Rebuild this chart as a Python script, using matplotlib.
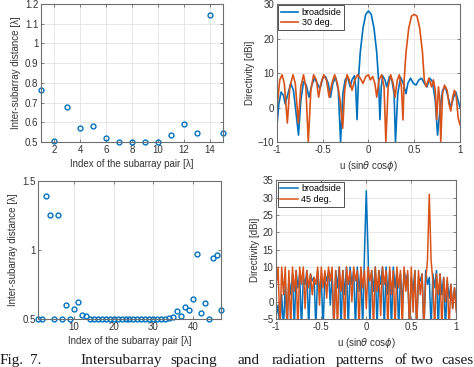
import matplotlib
matplotlib.use('Agg')
import matplotlib.pyplot as plt
import numpy as np
from matplotlib.ticker import FuncFormatter

# top-left: spacing of 15 subarray pairs
tl_idx = list(range(1, 16))
tl_dist = [0.766, 0.503, 0.676, 0.573, 0.583, 0.522, 0.50, 0.50, 0.50, 0.50,
           0.536, 0.592, 0.544, 1.146, 0.547]

# bottom-left: spacing of 47 subarray pairs
bl_idx = list(range(1, 48))
bl_dist = [0.5, 0.5, 1.387, 1.25, 0.5, 1.25, 0.5, 0.603, 0.5, 0.572,
           0.62, 0.532, 0.52] + [0.5] * 20 + \
          [0.505, 0.515, 0.558, 0.524, 0.587, 0.563, 0.647, 0.972, 0.543, 0.616,
           0.5, 0.943, 0.965, 0.565]

# top-right: broadside and 30 deg patterns
tr_u_bs = [-1.0, -0.98, -0.955, -0.93, -0.91, -0.88, -0.85, -0.82, -0.79, -0.765,
           -0.74, -0.71, -0.68, -0.65, -0.62, -0.59, -0.56, -0.53, -0.5, -0.47,
           -0.44, -0.415, -0.39, -0.36, -0.33, -0.305, -0.28, -0.255, -0.23, -0.2,
           -0.18, -0.155, -0.14, -0.125, -0.11, -0.09, -0.06, -0.03, 0.0, 0.03,
           0.06, 0.09, 0.11, 0.125, 0.14, 0.155, 0.18, 0.2, 0.23, 0.255,
           0.28, 0.295, 0.32, 0.35, 0.38, 0.41, 0.43, 0.46, 0.49, 0.52,
           0.55, 0.58, 0.61, 0.64, 0.67, 0.7, 0.73, 0.755, 0.78, 0.81,
           0.84, 0.87, 0.9, 0.93, 0.955, 0.98, 1.0]
tr_d_bs = [-5, 1, 4.5, 3.5, 1, 4, 7, 5, -2, -8,
           2, 7.5, 6.5, 3, 6.5, 8.5, 7, 5.5, 8.5, 9,
           7, 3, 7, 8.8, 5, -10, 4, 8, 9, 6,
           8, 9.2, 6, -3.5, 8, 16, 23, 27, 28, 27,
           23, 16, 8, -3.5, 6, 9.2, 8, 6, 9, 8,
           4, -10, 4, 8.8, 7, 4, 7, 8.5, 7, 6.5,
           8, 8.5, 7, 6, 8.5, 7.5, 2, -8, -1, 5,
           6, 3, 0, 3, 4.5, 2, 0]

tr_u_30 = [-1.0, -0.97, -0.945, -0.92, -0.887, -0.86, -0.825, -0.8, -0.767, -0.74,
           -0.71, -0.685, -0.658, -0.63, -0.6, -0.57, -0.545, -0.52, -0.49, -0.46,
           -0.43, -0.4, -0.37, -0.34, -0.31, -0.282, -0.26, -0.235, -0.21, -0.18,
           -0.15, -0.12, -0.09, -0.06, -0.03, 0.0, 0.02, 0.046, 0.07, 0.09,
           0.115, 0.144, 0.17, 0.19, 0.215, 0.243, 0.27, 0.29, 0.315, 0.337,
           0.36, 0.377, 0.39, 0.41, 0.44, 0.47, 0.5, 0.53, 0.56, 0.59,
           0.61, 0.63, 0.66, 0.69, 0.71, 0.73, 0.745, 0.765, 0.78, 0.79,
           0.81, 0.83, 0.86, 0.88, 0.9, 0.92, 0.94, 0.96, 0.98, 1.0]
tr_d_30 = [0, 8, 9.5, 7, -4.5, 6, 9.5, 7, -4.5, 6,
           9.5, 6, -10, 5, 9.5, 8, 3, 7, 9.5, 8,
           3, 7, 9.5, 7, 2, -6, 5, 9.5, 8, 5,
           8, 9.5, 8.5, 7, 9, 9.5, 8, 9, 7, 3,
           8, 9.5, 6, -10, 6, 9.5, 7, 3, 8, 9.5,
           6, -3.6, 8, 16, 23, 26.5, 27, 26.5, 23, 16,
           8, 6, 8.5, 6, 8, 5, -3.5, 6, 2, -10,
           4, 6.5, 5, 1, -1, 3, 5, 3, -3, -5]

# bottom-right: broadside and 45 deg patterns, sampled every 0.02 in u
br_u = np.linspace(-1, 1, 101)
br_d_bs = [-4, -1, -8, 2, -8, 5, -8, 7, 2, 8,
           -8, 9, 4, 8, -8, 7, 5, 9, -8, 8,
           6, 7, -8, 9, 3, 7, -8, 8, 6, 9,
           -1, 8, -8, 9, 4, 10, -8, 9, 2, 10,
           -8, 10, 5, 9, -8, 10, 3, 9, -8, 14,
           32, 14, -8, 9, 3, 10, -8, 9, 5, 10,
           -8, 10, 2, 9, -8, 10, 4, 9, -8, 8,
           -1, 9, 6, 8, -8, 7, 3, 9, -8, 7,
           6, 8, -8, 9, 5, 7, -8, 8, 4, 9,
           -8, 8, 2, 7, -8, 6, 1, 5, -2, 4, 0]
br_d_45 = [5, 10, -8, 10, 2, 10, -8, 9, -8, 10,
           3, 9, -8, 10, 5, 10, -2, 9, 4, 8,
           2, 7, 5, 10, -1, 10, 4, 9, 1, 10,
           6, 10, -8, 9, -8, 10, 3, 9, -8, 10,
           5, 9, 0, 10, 6, 9, -8, 10, 4, 9,
           -2, 10, 6, 9, -8, 10, 3, 9, -4, 10,
           5, 9, -8, 10, 2, 9, -8, 10, 4, 9,
           -8, 10, 3, 9, -8, 10, -3, 9, -8, 9,
           2, 8, -8, 6, 12, 31, 12, 6, -8, 8,
           2, 8, -8, 7, 0, 7, -8, 5, -2, 4, -3]

BLUE = '#0072BD'
ORANGE = '#D95319'
SPINE = '#6e6e6e'
TXT = '#333333'

plt.rcParams['font.family'] = ['Liberation Sans', 'DejaVu Sans']
plt.rcParams['font.size'] = 7
plt.rcParams['mathtext.fontset'] = 'dejavusans'

fig = plt.figure(figsize=(4.74, 3.67), dpi=100)
ax_tl = fig.add_axes([0.0865, 0.613, 0.384, 0.376])
ax_tr = fig.add_axes([0.5844, 0.613, 0.386, 0.376])
ax_bl = fig.add_axes([0.0808, 0.1308, 0.3848, 0.3768])
ax_br = fig.add_axes([0.5829, 0.1308, 0.3797, 0.3777])

gfmt = FuncFormatter(lambda v, p: '%g' % round(v, 3))


def style(ax):
    for s in ax.spines.values():
        s.set_color(SPINE)
        s.set_linewidth(0.8)
    ax.tick_params(direction='in', length=2.5, width=0.6, colors=SPINE,
                   labelcolor=TXT, labelsize=7, top=True, right=True, pad=2)
    ax.set_axisbelow(True)


# top-left
ax_tl.plot(tl_idx, tl_dist, 'o', mfc='none', mec=BLUE, ms=3.5, mew=1, clip_on=False)
ax_tl.set_xlim(1, 15)
ax_tl.set_ylim(0.5, 1.2)
ax_tl.set_xticks([2, 4, 6, 8, 10, 12, 14])
ax_tl.set_yticks(np.arange(0.5, 1.21, 0.1))
ax_tl.yaxis.set_major_formatter(gfmt)
ax_tl.grid(True, color='#e3e3e3', lw=0.6)
ax_tl.set_xlabel('Index of the subarray pair [λ]', color=TXT, labelpad=3)
ax_tl.set_ylabel('Inter-subarray distance [λ]', color=TXT, labelpad=3)
style(ax_tl)

# bottom-left
ax_bl.plot(bl_idx, bl_dist, 'o', mfc='none', mec=BLUE, ms=3.5, mew=1, clip_on=False)
ax_bl.set_xlim(1, 47)
ax_bl.set_ylim(0.5, 1.5)
ax_bl.set_xticks([10, 20, 30, 40])
ax_bl.set_yticks([0.5, 1, 1.5])
ax_bl.yaxis.set_major_formatter(gfmt)
ax_bl.grid(True, axis='x', color='#e3e3e3', lw=0.6)
ax_bl.set_xlabel('Index of the subarray pair [λ]', color=TXT, labelpad=3)
ax_bl.set_ylabel('Inter-subarray distance [λ]', color=TXT, labelpad=3)
style(ax_bl)

# top-right
ax_tr.plot(tr_u_bs, tr_d_bs, color=BLUE, lw=1.2, label='broadside')
ax_tr.plot(tr_u_30, tr_d_30, color=ORANGE, lw=1.2, label='30 deg.')
ax_tr.set_xlim(-1, 1)
ax_tr.set_ylim(-10, 30)
ax_tr.set_xticks([-1, -0.5, 0, 0.5, 1])
ax_tr.set_yticks([-10, 0, 10, 20, 30])
ax_tr.xaxis.set_major_formatter(gfmt)
ax_tr.grid(True, color='#e3e3e3', lw=0.6)
ax_tr.set_xlabel('u (sin$\\theta$ cos$\\phi$)', color=TXT, labelpad=3)
ax_tr.set_ylabel('Directivity [dBi]', color=TXT, labelpad=2)
style(ax_tr)

# bottom-right
ax_br.plot(br_u, br_d_bs, color=BLUE, lw=1.1, label='broadside')
ax_br.plot(br_u, br_d_45, color=ORANGE, lw=1.1, label='45 deg.')
ax_br.set_xlim(-1, 1)
ax_br.set_ylim(-5, 35)
ax_br.set_xticks([-1, -0.5, 0, 0.5, 1])
ax_br.set_yticks(np.arange(-5, 36, 5))
ax_br.xaxis.set_major_formatter(gfmt)
ax_br.grid(True, color='#e3e3e3', lw=0.6)
ax_br.set_xlabel('u (sin$\\theta$ cos$\\phi$)', color=TXT, labelpad=3)
ax_br.set_ylabel('Directivity [dBi]', color=TXT, labelpad=2)
style(ax_br)

for ax in (ax_tr, ax_br):
    leg = ax.legend(loc='upper left', fontsize=6.5, handlelength=1.9, handletextpad=0.4,
                    borderpad=0.3, labelspacing=0.15, borderaxespad=0.15,
                    fancybox=False, framealpha=1)
    leg.get_frame().set_edgecolor('#333333')
    leg.get_frame().set_linewidth(0.6)

# caption, justified across the width, sitting on the bottom edge
words = [('Fig.', 0.0, 'left'), ('7.', 30, 'left'), ('Intersubarray', 80, 'left'),
         ('spacing', 170, 'left'), ('and', 238, 'left'), ('radiation', 272, 'left'),
         ('patterns', 336, 'left'), ('of', 394, 'left'), ('two', 411, 'left'),
         ('cases', 473, 'right')]
for w, x, ha in words:
    fig.text(x / 474, 3 / 367, w, fontsize=11, family='Liberation Serif',
             color='#1a1a1a', va='baseline', ha=ha)

fig.savefig('out.png', dpi=100)
